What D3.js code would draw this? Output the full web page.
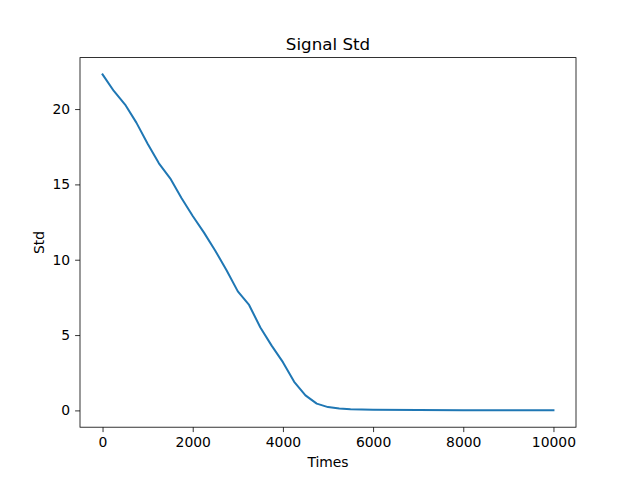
<!DOCTYPE html>
<html><head><meta charset="utf-8">
<script src="https://cdn.jsdelivr.net/npm/d3@7"></script>
<style>body{margin:0;background:#fff}text{font-family:"DejaVu Sans",sans-serif}</style>
</head><body><svg id="c" width="640" height="480"></svg>
<script>
const times = [0,250,500,750,1000,1250,1500,1750,2000,2250,2500,2750,3000,3250,3500,3750,4000,4250,4500,4750,5000,5250,5500,6000,7000,8000,9000,10000];
const stds  = [22.3,21.2,20.3,19.1,17.7,16.4,15.4,14.1,12.9,11.8,10.6,9.3,7.9,7.0,5.5,4.3,3.2,1.9,1.0,0.45,0.22,0.12,0.07,0.04,0.02,0.01,0.005,0.003];
const xTicks = [0,2000,4000,6000,8000,10000];
const yTicks = [0,5,10,15,20];
const svg = d3.select("#c");
const L=80,R=576,T=57.6,B=427.2;
const x = d3.scaleLinear().domain([-500,10500]).range([L,R]);
const yMax=22.3, pad=yMax*0.05;
const y = d3.scaleLinear().domain([-pad,yMax+pad]).range([B,T]);
const fs="13.9px";
const xa = svg.append("g").attr("transform",`translate(0,${B})`).call(d3.axisBottom(x).tickValues(xTicks).tickFormat(d3.format("d")).tickSizeOuter(0).tickSize(4.9).tickPadding(4.9));
const ya = svg.append("g").attr("transform",`translate(${L},0)`).call(d3.axisLeft(y).tickValues(yTicks).tickSizeOuter(0).tickSize(4.9).tickPadding(4.9));
[xa,ya].forEach(a=>{a.select(".domain").remove();a.selectAll("text").attr("font-size",fs).attr("font-family","DejaVu Sans").attr("fill","#000");a.selectAll("line").attr("stroke","#000").attr("stroke-width",0.8);});
svg.append("path").datum(times.map((t,i)=>[t,stds[i]])).attr("fill","none").attr("stroke","#1f77b4").attr("stroke-width",2).attr("stroke-linejoin","round").attr("stroke-linecap","square")
 .attr("d",d3.line().x(d=>x(d[0])).y(d=>y(d[1])));
svg.append("rect").attr("x",L).attr("y",T).attr("width",R-L).attr("height",B-T).attr("fill","none").attr("stroke","#000").attr("stroke-width",0.8);
svg.append("text").attr("x",(L+R)/2).attr("y",T-8).attr("text-anchor","middle").attr("font-size","16.7px").text("Signal Std");
svg.append("text").attr("x",(L+R)/2).attr("y",467).attr("text-anchor","middle").attr("font-size",fs).text("Times");
svg.append("text").attr("transform",`translate(44,${(T+B)/2}) rotate(-90)`).attr("text-anchor","middle").attr("font-size",fs).text("Std");
</script></body></html>
